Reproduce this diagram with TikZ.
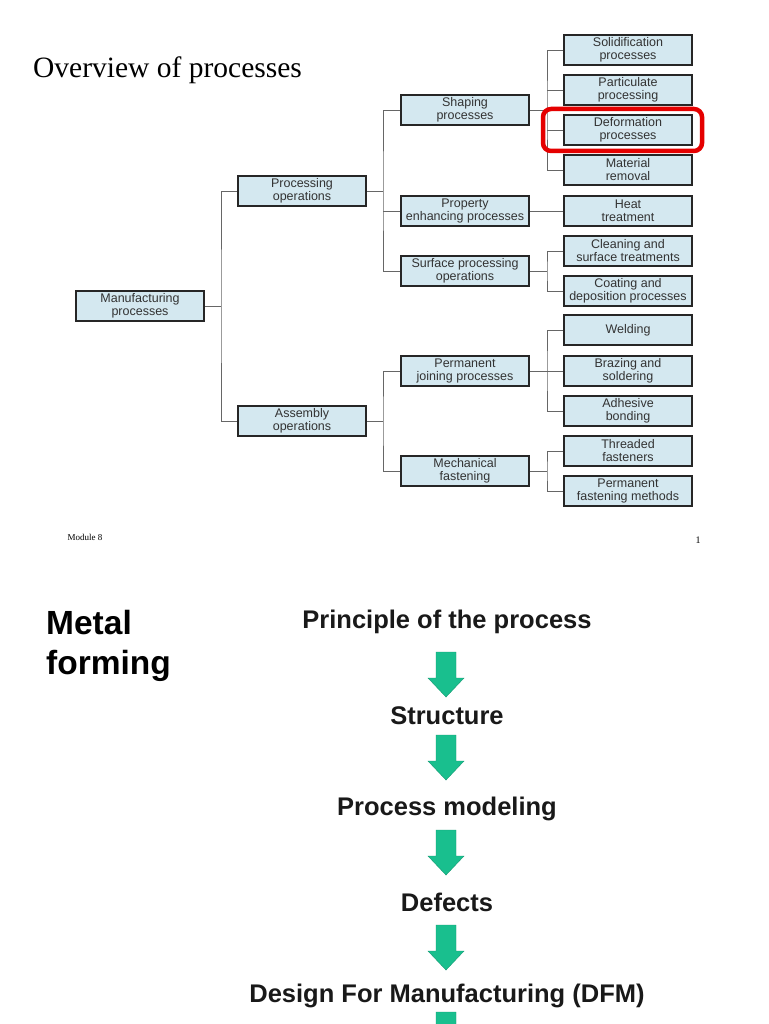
\documentclass[tikz,border=0pt]{standalone}
\usepackage{fontspec}
\setmainfont{Liberation Serif}
\newfontfamily\sans{Liberation Sans}
\begin{document}
\begin{tikzpicture}[x=1pt,y=-1pt,
 box/.style={draw=black!85,line width=2.2pt,fill=boxc,minimum width=128pt,minimum height=30pt,align=center,font=\sans\fontsize{12.5}{13}\selectfont,inner sep=0pt,text=black!80},
 con/.style={draw=black!60,line width=0.6pt},
 lbl/.style={font=\sans\bfseries\fontsize{25.5}{28}\selectfont,text=black!90},
 garr/.style={fill=garc,draw=garc!80!black,line width=0.4pt}]
\definecolor{boxc}{HTML}{D4E8F0}
\definecolor{garc}{HTML}{19BF8E}
\useasboundingbox (0,0) rectangle (768,1024);
\fill[white] (0,0) rectangle (768,1024);
\node[anchor=west,font=\fontsize{29.5}{32}\selectfont,inner sep=0pt] (title) at (33,70) {Overview of processes};
\node[box] (mp) at (140,306) {Manufacturing\\processes};
\node[box] (po) at (302,191) {Processing\\operations};
\node[box] (ao) at (302,421) {Assembly\\operations};
\node[box] (sh) at (465,110) {Shaping\\processes};
\node[box] (pe) at (465,211) {Property\\enhancing processes};
\node[box] (sp) at (465,271) {Surface processing\\operations};
\node[box] (pj) at (465,371) {Permanent\\joining processes};
\node[box] (mf) at (465,471) {Mechanical\\fastening};
\node[box] (c1) at (628,50) {Solidification\\processes};
\node[box] (c2) at (628,90) {Particulate\\processing};
\node[box] (c3) at (628,130) {Deformation\\processes};
\node[box] (c4) at (628,170) {Material\\removal};
\node[box] (c5) at (628,211) {Heat\\treatment};
\node[box] (c6) at (628,251) {Cleaning and\\surface treatments};
\node[box] (c7) at (628,291) {Coating and\\deposition processes};
\node[box] (c8) at (628,330) {Welding};
\node[box] (c9) at (628,371) {Brazing and\\soldering};
\node[box] (c10) at (628,411) {Adhesive\\bonding};
\node[box] (c11) at (628,451) {Threaded\\fasteners};
\node[box] (c12) at (628,491) {Permanent\\fastening methods};
% connectors
\draw[con] (mp.east) -- (221,306);
\draw[con] (po.west) -| (221,306) |- (ao.west);
\draw[con] (po.east) -- (383,191);
\draw[con] (sh.west) -| (383,191) |- (sp.west);
\draw[con] (pe.west) -- (383,211);
\draw[con] (ao.east) -- (383,421);
\draw[con] (pj.west) -| (383,421) |- (mf.west);
\draw[con] (sh.east) -- (547,110);
\draw[con] (c1.west) -| (547,110) |- (c4.west);
\draw[con] (c2.west) -- (547,90);
\draw[con] (c3.west) -- (547,130);
\draw[con] (pe.east) -- (c5.west);
\draw[con] (sp.east) -- (547,271);
\draw[con] (c6.west) -| (547,271) |- (c7.west);
\draw[con] (pj.east) -- (547,371);
\draw[con] (c8.west) -| (547,371) |- (c10.west);
\draw[con] (c9.west) -- (547,371);
\draw[con] (mf.east) -- (547,471);
\draw[con] (c11.west) -| (547,471) |- (c12.west);
\draw[red!90!black,line width=4.5pt,rounded corners=8pt] (543,109) rectangle (702,151);
\node[font=\fontsize{9}{10}\selectfont,anchor=west] (mod) at (64,537) {Module 8};
\node[font=\fontsize{10}{11}\selectfont] (pg) at (698,540) {1};
% bottom
\node[anchor=north west,align=left,font=\sans\bfseries\fontsize{33.5}{40}\selectfont,inner sep=0pt] (mfm) at (46,610) {Metal\\forming};
\node[lbl] (t1) at (447,622) {Principle of the process};
\node[lbl] (t2) at (447,716) {Structure};
\node[lbl] (t3) at (447,809) {Process modeling};
\node[lbl] (t4) at (447,902) {Defects};
\node[lbl] (t5) at (447,996) {Design For Manufacturing (DFM)};
\foreach \y in {652,735,830,925,1012}{
 \draw[garr] (436,\y) -- (456,\y) -- (456,\y+26) -- (464,\y+26) -- (446,\y+45) -- (428,\y+26) -- (436,\y+26) -- cycle;}
\end{tikzpicture}
\end{document}
